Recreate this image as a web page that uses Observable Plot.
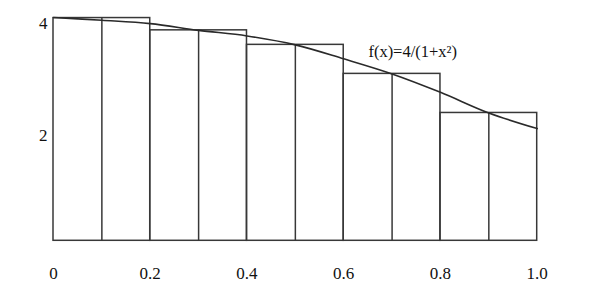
<!DOCTYPE html>
<html>
<head>
<meta charset="utf-8">
<script src="https://cdn.jsdelivr.net/npm/d3@7"></script>
<script src="https://cdn.jsdelivr.net/npm/@observablehq/plot@0.6"></script>
<style>
  html, body { margin: 0; padding: 0; background: #fff; }
  #chart svg { display: block; }
</style>
</head>
<body>
<div id="chart"></div>
<script>
// Curve as drawn in the figure (sampled every 0.1)
const curveX = [0, 0.1, 0.2, 0.3, 0.4, 0.5, 0.6, 0.7, 0.8, 0.9, 1.0];
const curveY = [4.00, 3.95, 3.89, 3.77, 3.67, 3.51, 3.26, 2.99, 2.66, 2.29, 2.01];

// Midpoint-rule rectangles
const rectX1 = [0, 0.2, 0.4, 0.6, 0.8];
const rectX2 = [0.2, 0.4, 0.6, 0.8, 1.0];
const rectMid = [0.1, 0.3, 0.5, 0.7, 0.9];
const rectH = [3.99, 3.77, 3.51, 2.99, 2.29];

const xTicks = [0, 0.2, 0.4, 0.6, 0.8, 1.0];
const xTickLabels = ["0", "0.2", "0.4", "0.6", "0.8", "1.0"];
const yTicks = [2, 4];
const yTickLabels = ["2", "4"];

const fnLabel = "f(x)=4/(1+x²)";

const curve = curveX.map((x, i) => ({x, y: curveY[i]}));
const rects = rectX1.map((x1, i) => ({x1, x2: rectX2[i], mid: rectMid[i], h: rectH[i]}));

const ink = "#383838";
const textInk = "#111";
const font = "'Liberation Serif', 'Times New Roman', serif";

const chart = Plot.plot({
  width: 600,
  height: 289,
  marginLeft: 53,
  marginRight: 63.3,
  marginTop: 17,
  marginBottom: 48.7,
  style: {fontFamily: font, color: textInk, background: "#fff"},
  x: {domain: [0, 1]},
  y: {domain: [0, 4]},
  marks: [
    Plot.rect(rects, {x1: "x1", x2: "x2", y1: 0, y2: "h", fill: "none", stroke: ink, strokeWidth: 1.5}),
    Plot.ruleX(rects, {x: "mid", y1: 0, y2: "h", stroke: ink, strokeWidth: 1.5}),
    Plot.line(curve, {x: "x", y: "y", curve: "catmull-rom", stroke: "#2a2a2a", strokeWidth: 1.6}),
    Plot.axisX({
      ticks: xTicks,
      tickFormat: (d, i) => xTickLabels[i],
      tickSize: 0,
      tickPadding: 26,
      fontSize: 17,
      fill: textInk,
      label: null
    }),
    Plot.axisY({
      ticks: yTicks,
      tickFormat: (d, i) => yTickLabels[i],
      tickSize: 0,
      tickPadding: 6,
      dy: 6,
      fontSize: 17,
      fill: textInk,
      label: null
    }),
    Plot.text([fnLabel], {
      x: () => 0.651,
      y: () => 3.29,
      text: d => d,
      textAnchor: "start",
      lineAnchor: "bottom",
      fontSize: 16.5,
      fill: textInk
    })
  ]
});

document.getElementById("chart").appendChild(chart);
</script>
</body>
</html>
